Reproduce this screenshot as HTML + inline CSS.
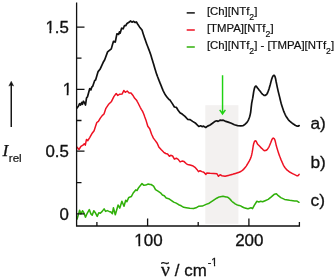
<!DOCTYPE html>
<html><head><meta charset="utf-8"><title>Raman spectra</title>
<style>
html,body{margin:0;padding:0;background:#fff;}
svg{display:block;}
text{font-family:"Liberation Sans",sans-serif;fill:#111;}
.ser{font-family:"Liberation Serif",serif;}
</style></head><body>
<svg width="335" height="279" viewBox="0 0 335 279">
<defs><clipPath id="k15"><path clip-rule="evenodd" d="M-60 -40 H60 V20 H-60 Z M-21.70 -2.47 H-17.88 V2.50 H-21.70 Z M-16.26 -2.47 H-12.57 V2.50 H-16.26 Z"/></clipPath><clipPath id="k1"><path clip-rule="evenodd" d="M-60 -40 H60 V20 H-60 Z M-8.69 -2.47 H-4.87 V2.50 H-8.69 Z M-3.25 -2.47 H0.44 V2.50 H-3.25 Z"/></clipPath><clipPath id="k100"><path clip-rule="evenodd" d="M-60 -40 H60 V20 H-60 Z M-13.03 -2.47 H-9.21 V2.50 H-13.03 Z M-7.59 -2.47 H-3.90 V2.50 H-7.59 Z"/></clipPath><clipPath id="ksup"><path clip-rule="evenodd" d="M-60 -40 H60 V20 H-60 Z M3.26 -2.11 H6.25 V2.50 H3.26 Z M7.45 -2.11 H10.36 V2.50 H7.45 Z"/></clipPath></defs>
<rect x="0" y="0" width="335" height="279" fill="#ffffff"/>
<g transform="translate(0,0.5)">
<rect x="205.3" y="104.7" width="33.1" height="118.6" fill="#f3f1f0"/>
<polyline fill="none" stroke="#111" stroke-width="1.7" stroke-linejoin="round" stroke-linecap="round" points="76.8,107.6 78.4,105.7 79.6,103.2 80.5,104.5 81.8,101.9 82.5,103.8 83.4,100.7 84.7,102.6 85.5,104.5 86.5,97.6 87.5,96.3 89.7,88.2 90.9,89.4 91.6,86.9 92.8,85.6 94.7,80.0 95.6,79.5 98.1,71.1 100.0,68.8 103.2,61.8 104.6,59.5 107.6,51.4 111.3,48.4 112.5,44.0 113.5,40.8 115.3,41.5 116.9,33.3 118.6,33.9 119.4,31.4 120.1,32.7 121.6,27.7 123.2,28.3 124.4,25.2 125.7,25.2 127.0,23.0 128.6,22.0 130.7,20.5 132.0,21.7 133.6,20.8 135.1,22.0 136.4,21.4 137.6,23.5 139.5,26.4 142.0,29.6 142.5,31.1 143.0,32.7 143.5,34.2 144.0,35.7 144.5,37.2 145.0,38.6 145.5,40.1 146.0,41.5 146.5,42.9 147.0,44.2 147.5,45.5 148.0,46.8 148.5,48.1 149.0,49.4 149.5,50.7 150.0,52.1 150.5,53.6 151.0,55.1 151.5,56.7 152.0,58.4 152.5,60.0 153.0,61.7 153.5,63.3 154.0,65.1 154.5,66.8 155.0,68.5 155.5,70.1 156.0,71.7 156.5,73.2 157.0,74.6 157.5,76.0 158.0,77.3 158.5,78.6 159.0,79.9 159.5,81.1 160.0,82.4 160.5,83.6 161.0,84.8 161.5,86.1 162.0,87.4 162.5,88.6 163.0,89.8 163.5,90.9 164.0,91.9 164.5,92.9 165.0,93.7 165.5,94.5 166.0,95.2 166.5,95.9 167.0,96.6 167.5,97.2 168.0,97.8 168.5,98.4 169.0,98.8 169.5,99.3 170.0,99.6 172.5,103.4 174.4,106.5 176.3,106.8 178.1,109.7 180.0,112.2 182.5,113.8 185.0,115.9 187.6,118.8 190.1,119.1 192.6,120.9 195.7,122.8 198.8,126.0 200.7,125.3 202.0,126.1 203.6,125.6 205.7,127.0 207.6,125.6 210.1,124.5 212.5,122.8 215.0,120.9 216.9,120.3 218.1,120.9 220.0,119.7 221.9,119.9 223.2,119.7 225.0,120.6 228.2,121.6 231.3,122.8 234.4,124.3 237.6,125.1 240.7,125.3 243.2,125.1 243.7,124.8 244.2,124.4 244.7,124.0 245.2,123.6 245.7,123.1 246.2,122.6 246.7,122.1 247.2,121.5 247.7,120.7 248.2,119.8 248.7,118.8 249.2,117.5 249.7,116.0 250.2,114.1 250.7,111.5 251.2,106.8 251.7,102.7 252.2,100.1 252.7,97.7 253.2,94.5 253.7,91.2 254.2,88.8 254.7,87.0 255.2,86.1 255.7,85.6 256.2,85.7 256.7,86.3 257.2,87.1 257.7,87.7 258.2,88.3 258.7,89.0 259.2,89.6 259.7,90.2 260.2,90.8 260.7,91.5 261.2,92.2 261.7,92.8 262.2,93.3 262.7,93.8 263.2,94.2 263.7,94.6 264.2,94.9 264.7,95.0 265.2,94.9 265.7,94.6 266.2,94.3 266.7,93.8 267.2,93.0 267.7,92.0 268.2,90.7 268.7,89.4 269.2,87.8 269.7,86.0 270.2,84.3 270.7,82.4 271.2,80.4 271.7,78.6 272.2,77.2 272.7,76.0 273.2,75.3 273.7,74.9 274.2,74.8 274.7,75.5 275.2,76.7 275.7,78.8 276.2,81.5 276.7,83.9 277.2,86.3 277.7,88.7 278.2,90.9 278.7,92.9 279.2,94.9 279.7,96.9 280.2,99.0 280.7,101.1 281.2,103.0 281.7,104.7 282.2,106.3 282.7,107.8 283.2,109.2 283.7,110.6 284.2,111.9 284.7,113.0 285.2,114.1 285.7,115.1 286.2,116.0 286.7,116.8 287.2,117.6 287.7,118.3 288.2,119.0 288.7,119.6 289.2,120.1 289.7,120.6 290.2,121.0 290.7,121.5 291.2,121.9 291.7,122.3 292.2,122.7 292.7,123.1 293.2,123.4 293.7,123.8 294.2,124.1 294.7,124.4 295.2,124.7 295.7,125.0 296.2,125.2 296.7,125.5 297.2,125.6 297.7,125.7 298.2,125.6 298.7,125.4 299.2,125.1"/>
<polyline fill="none" stroke="#ee1122" stroke-width="1.5" stroke-linejoin="round" stroke-linecap="round" points="76.8,146.5 79.0,149.0 80.9,145.8 83.0,144.6 84.3,143.3 85.3,144.6 86.5,138.9 87.8,140.2 89.7,137.1 92.2,132.7 94.1,130.2 95.3,126.4 96.8,122.0 98.4,120.8 100.3,117.6 102.2,115.1 104.0,113.5 105.9,107.8 108.4,104.1 111.5,100.9 114.0,95.9 116.2,93.0 117.8,95.0 119.7,93.7 122.2,93.4 123.8,90.0 125.3,91.8 127.2,90.5 129.1,92.5 131.0,92.5 132.8,94.7 134.7,97.8 136.8,100.1 137.3,101.1 137.8,102.0 138.3,103.0 138.8,104.0 139.3,105.0 139.8,106.0 140.3,107.0 140.8,107.9 141.3,108.8 141.8,109.6 142.3,110.4 142.8,111.4 143.3,112.5 143.8,113.8 144.3,115.1 144.6,116.0 145.9,119.4 147.8,125.7 149.7,128.2 151.6,133.8 153.4,137.6 155.3,140.1 157.2,142.8 158.8,146.4 161.3,149.3 163.8,151.8 165.7,153.0 167.6,153.5 169.4,155.8 170.7,154.8 172.6,155.5 174.4,158.6 176.3,157.7 178.2,158.9 180.1,161.4 182.0,160.6 184.1,161.1 186.4,163.3 187.6,163.9 190.0,164.5 192.5,165.2 195.0,166.8 196.9,168.9 198.5,171.1 200.0,170.2 201.9,171.1 203.8,171.8 205.9,173.9 206.9,172.4 210.1,172.7 213.8,172.9 217.0,173.3 218.5,175.8 220.1,174.3 222.0,175.2 225.1,175.8 228.2,175.0 228.7,174.9 229.2,174.7 229.7,174.6 230.2,174.4 230.7,174.3 231.2,174.2 231.7,174.0 232.2,173.9 232.7,173.8 233.2,173.6 233.7,173.5 234.2,173.3 234.7,173.2 235.2,173.0 235.7,172.9 236.2,172.7 236.7,172.5 237.2,172.4 237.7,172.2 238.2,172.0 238.7,171.9 239.2,171.7 239.7,171.5 240.2,171.2 240.7,171.0 241.2,170.7 241.7,170.4 242.2,170.0 242.7,169.6 243.2,169.1 243.7,168.6 244.2,168.1 244.7,167.5 245.2,166.9 245.7,166.3 246.2,165.6 246.7,164.8 247.2,164.0 247.7,163.2 248.2,162.3 248.7,161.5 249.2,160.6 249.7,159.6 250.2,158.6 250.7,157.4 251.2,156.0 251.7,154.2 252.2,151.7 252.7,148.8 253.2,145.5 253.7,143.2 254.2,141.6 254.7,140.7 255.2,140.2 255.7,140.4 256.2,140.9 256.7,141.8 257.2,143.0 257.7,143.7 258.2,144.3 258.7,144.8 259.2,145.3 259.7,145.8 260.2,146.3 260.7,146.9 261.2,147.4 261.7,147.8 262.2,148.3 262.7,148.8 263.2,149.3 263.7,149.7 264.2,150.1 264.7,150.2 265.2,150.1 265.7,150.0 266.2,149.8 266.7,149.5 267.2,149.1 267.7,148.4 268.2,147.6 268.7,146.8 269.2,145.8 269.7,144.7 270.2,143.5 270.7,142.3 271.2,140.9 271.7,139.7 272.2,138.7 272.7,137.9 273.2,137.6 273.7,137.8 274.2,138.1 274.7,139.1 275.2,140.5 275.7,142.6 276.2,144.8 276.7,146.6 277.2,148.3 277.7,149.9 278.2,151.4 278.7,152.9 279.2,154.4 279.7,155.8 280.2,157.1 280.7,158.4 281.2,159.6 281.7,160.7 282.2,161.9 282.7,163.0 283.2,164.1 283.7,165.1 284.2,166.0 284.7,166.7 285.2,167.4 285.7,168.0 286.2,168.6 286.7,169.1 287.2,169.6 287.7,170.0 288.2,170.4 288.7,170.8 289.2,171.2 289.7,171.5 290.2,171.8 290.7,172.1 291.2,172.4 291.7,172.7 292.2,172.9 292.7,173.2 293.2,173.4 293.7,173.6 294.2,173.9 294.7,174.1 295.2,174.4 295.7,174.6 296.2,174.9 296.7,175.1 296.8,175.2 297.9,175.3 299.1,173.9"/>
<polyline fill="none" stroke="#30b00a" stroke-width="1.55" stroke-linejoin="round" stroke-linecap="round" points="77.1,218.5 78.4,214.1 79.6,209.7 80.9,213.4 82.5,210.3 83.8,212.2 85.5,216.6 87.2,212.8 89.3,209.1 90.9,213.4 92.2,214.7 93.8,210.3 95.3,212.2 97.2,215.9 98.8,212.2 100.3,212.8 102.2,210.9 104.1,208.4 105.6,210.9 107.2,210.1 109.1,210.9 111.0,211.6 112.4,213.1 113.4,207.3 115.3,214.3 118.1,204.5 119.8,207.6 121.9,200.7 124.0,205.7 125.7,199.8 126.9,201.1 128.8,196.9 131.3,196.1 133.2,192.5 135.7,189.4 137.0,190.0 138.8,186.9 142.0,183.1 143.9,184.8 145.7,184.6 148.2,183.5 150.1,184.0 151.1,184.0 153.6,185.6 155.5,189.2 158.0,190.7 160.5,192.3 162.4,194.5 164.3,195.3 166.2,197.6 168.7,198.2 171.2,199.8 173.7,201.6 176.2,202.6 178.7,204.2 181.2,205.3 183.7,206.8 186.2,207.2 189.8,207.7 193.5,208.1 196.0,207.3 198.5,205.8 202.3,205.6 206.1,203.9 209.2,202.7 213.0,200.2 216.7,197.7 219.2,196.4 223.0,195.8 226.1,196.4 226.6,196.5 227.1,196.6 227.6,196.8 228.1,197.0 228.6,197.4 229.1,197.8 229.6,198.2 230.1,198.8 230.6,199.4 231.1,199.9 231.6,200.5 232.1,201.0 232.6,201.4 233.1,201.8 233.6,202.2 234.1,202.5 234.6,202.9 235.1,203.3 235.6,203.6 236.1,203.9 236.6,204.2 237.1,204.4 237.6,204.6 238.1,204.7 238.6,204.9 239.1,205.0 239.6,205.1 240.1,205.2 240.6,205.4 241.1,205.7 241.6,206.0 242.1,206.2 242.6,206.5 243.1,206.8 243.6,207.0 244.1,207.2 244.6,207.4 245.1,207.5 245.6,207.7 246.1,207.8 246.6,208.0 247.1,208.1 247.6,208.2 248.1,208.3 251.0,207.3 252.5,208.1 254.4,204.6 256.9,200.8 258.8,201.4 260.7,200.8 262.6,201.2 265.1,200.2 268.2,198.9 271.3,196.4 274.5,193.7 276.4,193.2 278.3,195.2 280.8,197.1 284.6,198.9 289.6,199.8 294.6,200.4 297.1,200.6 299.0,201.8"/>
<g stroke="#111" stroke-width="1.3" fill="none" stroke-linecap="butt">
<path d="M76.6 2 V225.5 H299.4 V221.5"/>
<path d="M76.6 26.6 H84.5 M76.6 88.9 H84.5 M76.6 150.6 H84.5 M76.6 213.3 H84.5"/>
<path d="M76.6 57.7 H81.5 M76.6 120 H81.5 M76.6 182.2 H81.5"/>
<path d="M147.6 225.5 V218 M248.9 225.5 V218"/>
<path d="M96.9 225.5 V221.5 M198.2 225.5 V221.5"/>
</g>
<path d="M11.25 126.4 V83" stroke="#111" stroke-width="1.45" fill="none"/><path d="M11.25 80.7 L13.7 85.6 L11.25 84.5 L8.8 85.6 Z" fill="#111" stroke="#111" stroke-width="0.4" stroke-linejoin="round"/>
<g stroke="#1fd212" stroke-width="1.45" fill="none"><path d="M222.55 74.7 V112.8 M219.7 109.4 L222.55 113.4 L225.4 109.4"/></g>
<g font-size="15.6px" text-anchor="end" stroke="#111" stroke-width="0.3">
<text transform="translate(68.8,32) scale(1.08,1)" clip-path="url(#k15)">1.5</text>
<text transform="translate(72.0,94.8) scale(1.08,1)" clip-path="url(#k1)">1</text>
<text transform="translate(68.8,156.8) scale(1.08,1)">0.5</text>
<text transform="translate(68.8,219.2) scale(1.08,1)">0</text>
</g>
<g font-size="15.6px" text-anchor="middle" stroke="#111" stroke-width="0.3">
<text transform="translate(148.5,245.7) scale(1.09,1)" clip-path="url(#k100)">100</text>
<text transform="translate(249.3,245.7) scale(1.09,1)">200</text>
</g>
<text x="2.5" y="155.0" class="ser" font-size="17.5px" font-style="italic" stroke="#111" stroke-width="0.25">I</text>
<text x="8.8" y="161.3" font-size="11.6px" stroke="#111" stroke-width="0.2">rel</text>
<g stroke="#111" stroke-width="0.3">
<text x="161" y="275.2" class="ser" font-size="19.6px">ν</text>
<text x="160.6" y="267.2" font-size="15.5px">~</text>
<text x="174.8" y="275.2" font-size="16.9px">/ cm</text>
<text transform="translate(207.7,265.5)" font-size="10.9px" clip-path="url(#ksup)">-1</text>
</g>
<g font-size="17.3px" stroke="#111" stroke-width="0.3">
<text x="310.5" y="128.4">a)</text>
<text x="310.5" y="167.4">b)</text>
<text x="310.5" y="205.4">c)</text>
</g>
</g>
<g stroke-width="1.5" fill="none">
<path d="M186.7 12.9 H194.8" stroke="#111"/>
<path d="M186.7 30.0 H194.8" stroke="#ee1122"/>
<path d="M186.7 47.0 H194.8" stroke="#30b00a"/>
</g>
<g font-size="11.4px" stroke="#111" stroke-width="0.2">
<text x="206.9" y="14.7">[Ch][NTf<tspan font-size="8.7px" dy="4.9">2</tspan><tspan dy="-4.9">]</tspan></text>
<text x="206.9" y="31.7">[TMPA][NTf<tspan font-size="8.7px" dy="4.9">2</tspan><tspan dy="-4.9">]</tspan></text>
<text x="206.9" y="48.7">[Ch][NTf<tspan font-size="8.7px" dy="4.9">2</tspan><tspan dy="-4.9">] - [TMPA][NTf</tspan><tspan font-size="8.7px" dy="4.9">2</tspan><tspan dy="-4.9">]</tspan></text>
</g>
</svg>
</body></html>
